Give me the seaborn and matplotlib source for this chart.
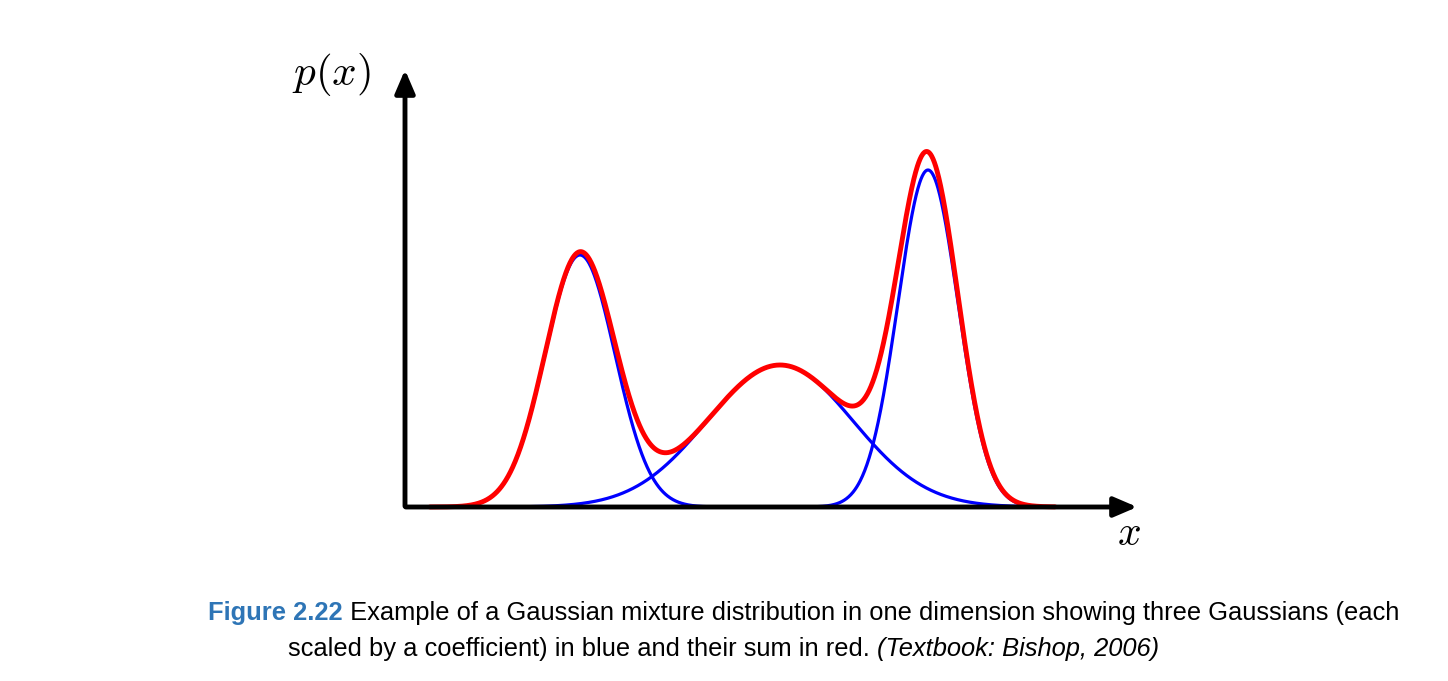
import numpy as np
import pandas as pd
import matplotlib
matplotlib.use("Agg")
import matplotlib.pyplot as plt
import seaborn as sns

# mixture components (pixel units from the axis origin)
means = [175, 375, 523]
sigmas = [35, 73, 30]
peaks = [252, 142, 337]

x = np.linspace(25, 650, 1400)
comps = [p * np.exp(-0.5 * ((x - m) / s) ** 2) for m, s, p in zip(means, sigmas, peaks)]
total = np.sum(comps, axis=0)

sns.set_style("white")
plt.rcParams['font.family'] = ['Liberation Sans', 'DejaVu Sans']
plt.rcParams['mathtext.fontset'] = 'cm'
plt.rcParams['text.color'] = 'black'

fig = plt.figure(figsize=(14.48, 6.81), dpi=100)
ax = fig.add_axes([0, 0, 1, 1])
ax.set_xlim(-405, 1448 - 405)
ax.set_ylim(-(681 - 507), 507)
ax.axis("off")

for c in comps:
    df = pd.DataFrame({"x": x, "y": c})
    sns.lineplot(data=df, x="x", y="y", ax=ax, color="#0000ff", lw=2.3)
sns.lineplot(x=x, y=total, ax=ax, color="#ff0000", lw=3.5)

# axes with arrows
ax.annotate("", xy=(735, 0), xytext=(-2, 0),
            arrowprops=dict(arrowstyle="-|>,head_length=1.4,head_width=0.6", lw=3.5, color="black"))
ax.annotate("", xy=(0, 440), xytext=(0, -2),
            arrowprops=dict(arrowstyle="-|>,head_length=1.4,head_width=0.6", lw=3.5, color="black"))
ax.text(-113, 432, r"$p(x)$", fontsize=31, va="center", ha="left")
ax.text(712, -27, r"$x$", fontsize=30, va="center", ha="left")

# caption
fig.canvas.draw()
r = fig.canvas.get_renderer()
fs = 18.4
t1 = fig.text(0, 0, "Figure 2.22", fontsize=fs, color="#2E75B6", fontweight="bold")
t2 = fig.text(0, 0, " Example of a Gaussian mixture distribution in one dimension showing three Gaussians (each",
              fontsize=fs)
w1 = t1.get_window_extent(r).width
w2 = t2.get_window_extent(r).width
x0 = (1448 - w1 - w2) / 2 + 80
y1 = 1 - 620 / 681
t1.set_position((x0 / 1448, y1))
t2.set_position(((x0 + w1) / 1448, y1))
t3 = fig.text(0, 0, "scaled by a coefficient) in blue and their sum in red. ", fontsize=fs)
t4 = fig.text(0, 0, "(Textbook: Bishop, 2006)", fontsize=fs, style="italic")
w3 = t3.get_window_extent(r).width
w4 = t4.get_window_extent(r).width
x0 = (1448 - w3 - w4) / 2
y2 = 1 - 656 / 681
t3.set_position((x0 / 1448, y2))
t4.set_position(((x0 + w3) / 1448, y2))

fig.savefig("out.png", dpi=100)
